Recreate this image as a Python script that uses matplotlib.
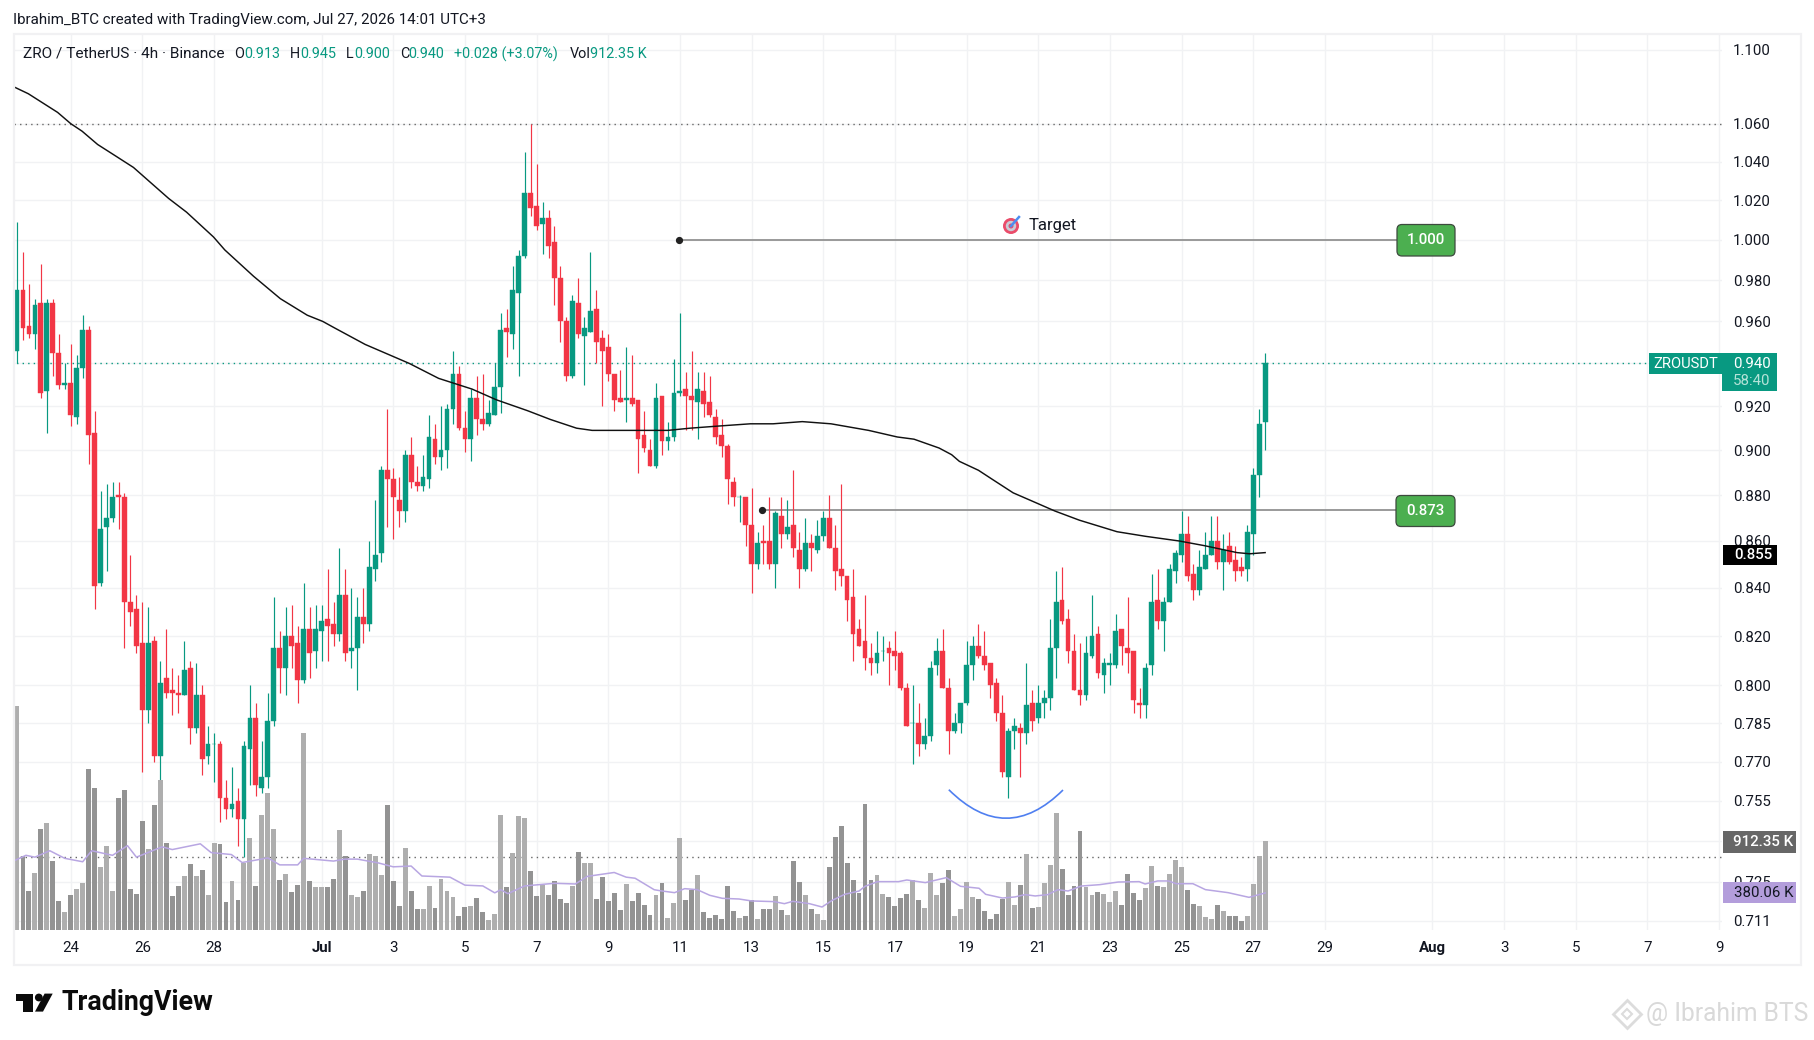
import numpy as np
import matplotlib
matplotlib.use("Agg")
import matplotlib.pyplot as plt
from matplotlib.patches import Rectangle, FancyBboxPatch, PathPatch, Polygon, Circle
from matplotlib.path import Path
from matplotlib.ticker import FixedLocator, NullLocator

plt.rcParams['font.family'] = ['Roboto', 'DejaVu Sans']

# ZRO/USDT 4h candles
opens = [
    .946, .975, .958, .954, .969, .927, .969, .945, .930, .931,
    .915, .938, .956, .908, .842, .866, .870, .880, .879, .834,
    .831, .817, .790, .818, .772, .803, .798, .797, .796, .807,
    .783, .796, .772, .777, .777, .756, .752, .755, .748, .775,
    .787, .760, .764, .786, .815, .807, .820, .817, .802, .823,
    .814, .822, .827, .825, .821, .837, .814, .815, .828, .825,
    .848, .855, .891, .887, .878, .873, .898, .886, .884, .887,
    .905, .897, .900, .919, .935, .910, .905, .924, .914, .912,
    .916, .929, .957, .954, .974, .992, 1.024, 1.017, 1.008, 1.011,
    .999, .981, .960, .934, .969, .953, .955, .966, .952, .948,
    .935, .924, .923, .924, .923, .907, .900, .893, .925, .904,
    .906, .926, .928, .925, .922, .927, .922, .915, .907, .902,
    .886, .879, .879, .867, .850, .860, .860, .850, .871, .863,
    .867, .856, .848, .859, .856, .862, .870, .857, .848, .845,
    .836, .823, .818, .811, .809, .814, .815, .814, .813, .799,
    .785, .785, .777, .780, .808, .814, .799, .782, .785, .793,
    .808, .816, .812, .809, .801, .789, .764, .782, .783, .781,
    .793, .787, .793, .795, .815, .835, .827, .814, .798, .796,
    .812, .821, .804, .808, .808, .823, .815, .814, .793, .792,
    .808, .835, .826, .834, .847, .854, .863, .846, .839, .848,
    .854, .860, .851, .858, .852, .849, .848, .863, .889, .913,
]
highs = [
    1.009, .994, .978, .971, .988, .971, .971, .954, .940, .949,
    .944, .963, .958, .918, .882, .885, .886, .886, .881, .854,
    .837, .834, .832, .820, .810, .823, .807, .804, .818, .810,
    .809, .800, .784, .781, .778, .763, .768, .760, .778, .800,
    .793, .778, .797, .836, .822, .832, .833, .824, .842, .832,
    .833, .833, .848, .834, .857, .848, .840, .836, .840, .860,
    .878, .893, .919, .892, .888, .900, .906, .893, .898, .916,
    .912, .920, .921, .946, .939, .918, .928, .934, .935, .923,
    .940, .964, .966, .987, .995, 1.045, 1.060, 1.039, 1.019, 1.015,
    1.007, .987, .962, .973, .981, .962, .994, .975, .956, .954,
    .935, .937, .948, .944, .923, .918, .905, .931, .925, .913,
    .942, .964, .936, .946, .936, .936, .934, .919, .914, .903,
    .888, .880, .879, .883, .864, .867, .879, .873, .879, .878,
    .891, .864, .870, .863, .869, .873, .880, .867, .885, .845,
    .848, .827, .837, .817, .822, .820, .818, .822, .814, .801,
    .800, .793, .787, .810, .819, .823, .803, .789, .793, .818,
    .820, .825, .822, .809, .803, .796, .783, .787, .785, .809,
    .798, .800, .798, .827, .847, .849, .831, .821, .817, .820,
    .837, .824, .811, .813, .829, .823, .836, .814, .799, .809,
    .846, .848, .836, .850, .856, .873, .871, .850, .856, .864,
    .871, .871, .863, .864, .858, .853, .867, .892, .919, .945,
]
lows = [
    .940, .951, .952, .947, .924, .908, .934, .928, .928, .911,
    .912, .933, .894, .831, .841, .847, .868, .865, .815, .824,
    .813, .766, .785, .770, .763, .795, .788, .789, .796, .777,
    .781, .765, .769, .762, .747, .748, .749, .738, .734, .761,
    .757, .758, .760, .784, .797, .796, .807, .793, .801, .803,
    .807, .810, .810, .816, .818, .810, .807, .798, .817, .822,
    .843, .851, .866, .861, .866, .868, .883, .882, .882, .883,
    .894, .891, .892, .912, .909, .899, .895, .907, .909, .911,
    .916, .917, .943, .947, .934, .991, 1.012, 1.005, .993, .991,
    .968, .950, .932, .933, .952, .930, .955, .940, .920, .932,
    .918, .922, .913, .920, .890, .899, .893, .892, .898, .900,
    .904, .925, .909, .909, .905, .915, .915, .903, .897, .876,
    .875, .868, .858, .838, .848, .850, .848, .840, .857, .861,
    .853, .840, .847, .847, .855, .860, .857, .839, .841, .826,
    .810, .816, .806, .804, .805, .810, .800, .806, .798, .784,
    .769, .772, .775, .778, .804, .799, .773, .781, .781, .792,
    .802, .811, .806, .795, .786, .764, .756, .775, .764, .777,
    .782, .785, .787, .790, .803, .825, .809, .798, .792, .794,
    .811, .803, .797, .800, .807, .808, .805, .789, .787, .787,
    .804, .823, .814, .834, .842, .851, .843, .835, .837, .848,
    .854, .848, .839, .850, .843, .845, .843, .854, .879, .900,
]
closes = [
    .975, .957, .954, .968, .926, .969, .945, .930, .931, .916,
    .938, .956, .907, .841, .865, .870, .879, .879, .834, .830,
    .816, .790, .817, .772, .801, .797, .797, .796, .806, .783,
    .796, .771, .777, .777, .756, .752, .754, .748, .776, .787,
    .761, .764, .786, .815, .807, .820, .816, .802, .823, .813,
    .823, .826, .824, .821, .837, .813, .815, .828, .825, .849,
    .854, .891, .887, .879, .873, .898, .886, .884, .888, .906,
    .897, .900, .919, .935, .910, .905, .924, .914, .912, .917,
    .929, .956, .955, .975, .992, 1.024, 1.016, 1.007, 1.011, .997,
    .981, .960, .934, .970, .954, .957, .965, .950, .946, .935,
    .923, .922, .924, .921, .905, .901, .893, .924, .904, .906,
    .926, .927, .925, .923, .928, .921, .916, .906, .902, .887,
    .879, .879, .867, .850, .859, .859, .850, .872, .863, .866,
    .857, .848, .859, .857, .862, .870, .857, .847, .845, .835,
    .821, .816, .811, .809, .813, .814, .813, .812, .799, .784,
    .785, .777, .780, .807, .814, .799, .782, .785, .793, .808,
    .816, .812, .808, .800, .789, .766, .782, .784, .781, .792,
    .786, .793, .795, .815, .834, .826, .814, .798, .796, .813,
    .820, .805, .809, .809, .822, .816, .813, .794, .792, .807,
    .834, .826, .834, .848, .855, .863, .845, .839, .849, .854,
    .860, .851, .856, .851, .847, .847, .864, .889, .912, .940,
]
# volume in thousands
volumes = [
    2299, 758, 401, 582, 1034, 1096, 707, 295, 185, 358,
    421, 479, 1651, 1458, 648, 861, 401, 1352, 1434, 421,
    369, 1116, 829, 1281, 1537, 892, 346, 448, 558, 676,
    558, 613, 358, 892, 880, 287, 503, 307, 692, 943,
    448, 1179, 1403, 1034, 511, 574, 389, 460, 2020, 503,
    440, 440, 440, 523, 1026, 758, 358, 338, 397, 778,
    758, 562, 1281, 503, 244, 841, 397, 212, 212, 448,
    224, 523, 397, 338, 141, 236, 244, 326, 185, 102,
    161, 1179, 440, 790, 1167, 1148, 605, 346, 460, 354,
    503, 314, 275, 448, 798, 688, 688, 314, 542, 295,
    377, 204, 472, 295, 377, 255, 153, 356, 479, 120,
    274, 940, 304, 414, 561, 181, 120, 150, 109, 448,
    192, 120, 140, 304, 109, 212, 212, 345, 202, 150,
    705, 489, 356, 212, 161, 99, 643, 951, 1064, 684,
    510, 376, 1289, 510, 561, 366, 335, 243, 325, 366,
    510, 304, 222, 581, 356, 479, 612, 140, 212, 489,
    335, 315, 192, 109, 161, 315, 489, 253, 458, 776,
    222, 233, 479, 663, 1197, 622, 356, 448, 1012, 438,
    356, 386, 366, 284, 397, 253, 571, 376, 304, 428,
    653, 448, 438, 571, 715, 643, 407, 263, 243, 130,
    109, 253, 192, 140, 140, 89, 140, 469, 756, 912.35,
]
# long moving average on price, sampled along the line
ma_bar = [
    0.3, 2.9, 7.8, 10, 11.9, 14.5, 17.5, 20.5, 22.7, 26.4, 29.4, 33.9, 35.8,
    40.6, 45.1, 49.6, 52.2, 54.1, 59.3, 66.7, 71.6, 77.2, 81.3, 86.5, 90.3,
    94.7, 97.3, 102.6, 110, 113.7, 118.6, 123.8, 127.6, 132.5, 137.3, 139.4,
    143.6, 148.4, 151.2, 155.4, 157.5, 158.8, 162, 164.3, 167.8, 171.3,
    174.8, 178.9, 185.2, 190, 195.6, 199.8, 205.3, 207.4, 210,
]
ma_price = [
    1.080, 1.076, 1.066, 1.060, 1.056, 1.049, 1.043, 1.037, 1.031, 1.021,
    1.014, 1.0015, .995, .982, .971, .963, .960, .957, .949, .940, .933,
    .928, .923, .918, .914, .910, .909, .909, .909, .910, .911, .912, .912,
    .913, .912, .911, .909, .906, .905, .901, .898, .895, .891, .887, .881,
    .877, .873, .869, .864, .862, .860, .858, .855, .8545, .855,
]
# volume moving average, sampled along the line
vma_bar = [
    0.4, 2.5, 4, 6.5, 9, 12, 13.5, 17, 19.5, 21, 25.3, 27, 31.7, 33.5, 36.9,
    38.7, 43, 45, 48, 49, 54, 55.9, 58, 61.5, 64, 67, 68.8, 73.5, 76, 79, 81,
    82, 83.2, 86, 91, 94.5, 96.5, 101, 103, 104.5, 107.7, 109, 111.1, 112.8,
    114.9, 117, 119.1, 121.9, 124, 127.8, 129.5, 130.9, 133.7, 135.8, 137.5,
    139.6, 142, 143, 145.1, 148.6, 150, 153.1, 156.6, 159, 162.1, 163.2, 166,
    168.1, 169.8, 171.5, 173.6, 175.3, 177, 179.2, 182.3, 185.4, 188.9, 189.9,
    192, 193.8, 195.1, 197.9, 200, 203.8, 207.3, 210,
]
vma_vals = [
    707, 766, 747, 813, 735, 700, 813, 766, 865, 747, 853, 825, 884, 794, 774,
    692, 739, 668, 668, 735, 707, 727, 727, 688, 648, 656, 554, 542, 460, 452,
    381, 413, 373, 452, 479, 472, 550, 590, 542, 531, 413, 400, 383, 424, 414,
    356, 325, 318, 298, 291, 270, 294, 270, 236, 304, 366, 400, 448, 496, 496,
    513, 486, 537, 448, 428, 366, 328, 339, 363, 349, 363, 414, 400, 451, 465,
    492, 496, 472, 503, 503, 475, 475, 414, 383, 335, 380.06,
]
price_ticks = [1.100, 1.060, 1.040, 1.020, 1.000, .980, .960, .940, .920, .900, .880,
               .860, .840, .820, .800, .785, .770, .755, .740, .725, .711]
# 0.740 sits fully behind the volume tag in the picture, so it gets no text
price_labels = ['' if p == .740 else '%.3f' % p for p in price_ticks]
date_ticks = [10, 22, 34, 52, 64, 76, 88, 100, 112, 124, 136, 148, 160, 172, 184, 196,
              208, 220, 238, 250, 262, 274, 286]
date_labels = ['24', '26', '28', 'Jul', '3', '5', '7', '9', '11', '13', '15', '17', '19',
               '21', '23', '25', '27', '29', 'Aug', '3', '5', '7', '9']
hi_level, lo_level = 1.060, .734
last_price = .940
target_level = 1.000
support_level = .8734

GREEN = '#089981'
RED = '#F23645'
TEXT = '#131722'
GRID = '#f1f2f4'
W, H = 1815, 1040
L, R, T, B = 14, 1722, 34, 930

fig = plt.figure(figsize=(W / 100, H / 100), dpi=100, facecolor='white')
rect = [L / W, 1 - B / H, (R - L) / W, (B - T) / H]

ax = fig.add_axes(rect, zorder=1)
bars = np.arange(1, len(opens) + 1)
o, h, l, c = map(np.array, (opens, highs, lows, closes))
up = c >= o
colors = np.where(up, GREEN, RED)

ax.set_yscale('log')
ax.set_xlim(0.498, 286.5)
ax.set_ylim(.7077, 1.1087)
ax.yaxis.tick_right()
ax.yaxis.set_major_locator(FixedLocator(price_ticks))
ax.yaxis.set_minor_locator(NullLocator())
ax.set_yticklabels(price_labels, fontsize=10.8, color=TEXT)
ax.set_xticks(date_ticks)
ax.set_xticklabels(date_labels, fontsize=10.8, color=TEXT)
for lab, txt in zip(ax.get_xticklabels(), date_labels):
    if txt in ('Jul', 'Aug'):
        lab.set_fontweight('bold')
ax.tick_params(axis='both', length=0, pad=8)
ax.grid(True, color=GRID, lw=1.0, zorder=0)
ax.set_axisbelow(True)
for s in ax.spines.values():
    s.set_visible(False)

ax.axhline(hi_level, color='#666666', lw=1.0, ls=(0, (1, 3)), zorder=1)
ax.axhline(lo_level, color='#666666', lw=1.0, ls=(0, (1, 3)), zorder=1)
ax.plot([bars[0] - 1, 276.5], [last_price, last_price], color=GREEN, lw=1.0, ls=(0, (1, 3)), zorder=1)

# drawn levels with their start dots
ax.plot([111.8, 232.5], [target_level, target_level], color='#929292', lw=1.3, zorder=2)
ax.plot([111.8], [target_level], 'o', color='#222222', ms=4.2, zorder=2)
ax.plot([125.8, 232.5], [support_level, support_level], color='#929292', lw=1.3, zorder=2)
ax.plot([125.8], [support_level], 'o', color='#222222', ms=4.2, zorder=2)

ax.vlines(bars, l, h, colors=colors, lw=0.85, zorder=3)
ax.bar(bars, c - o, bottom=o, width=0.8, color=colors, edgecolor=colors, linewidth=0.3, zorder=4)
ax.plot(ma_bar, ma_price, color='#111111', lw=1.05, zorder=5)

vol = fig.add_axes(rect, zorder=2, sharex=ax)
vol.patch.set_alpha(0)
vol.set_ylim(0, 9190)
vol.axis('off')
vol.bar(bars, volumes, width=0.82, color=np.where(up, '#aeaeae', '#939393'), linewidth=0)
vol.plot(vma_bar, vma_vals, color='#b8a6e2', lw=1.1)

# overlay in pixel units for labels and branding
ov = fig.add_axes([0, 0, 1, 1], zorder=3)
ov.set_xlim(0, W)
ov.set_ylim(H, 0)
ov.axis('off')
ov.patch.set_alpha(0)

ov.add_patch(Rectangle((14, 34), 1787, 931, fill=False, ec='#f1f1f3', lw=1.6))


def label(x, y, s, color=TEXT, size=10.8, ha='left', **kw):
    ov.text(x, y, s, color=color, fontsize=size, ha=ha, va='center', **kw)


label(13, 20, 'Ibrahim_BTC created with TradingView.com, Jul 27, 2026 14:01 UTC+3', size=10.9)

label(23, 54, 'ZRO / TetherUS · 4h · Binance', size=11.1)
for x, s, col in [(234, 'O', TEXT), (244, '0.913', GREEN), (290, 'H', TEXT), (300, '0.945', GREEN),
                  (346, 'L', TEXT), (354, '0.900', GREEN), (400, 'C', TEXT), (408.5, '0.940', GREEN),
                  (454, '+0.028 (+3.07%)', GREEN), (570, 'Vol', TEXT), (590.5, '912.35 K', GREEN)]:
    label(x, 54, s, color=col, size=10.4)


def level_box(x0, x1, y0, y1, s):
    ov.add_patch(FancyBboxPatch((x0 + 4, y0 + 4), x1 - x0 - 8, y1 - y0 - 8, boxstyle='round,pad=4,rounding_size=5',
                                fc='#4caf50', ec='#3d4a3e', lw=0.9))
    label((x0 + x1) / 2, (y0 + y1) / 2, s, color='white', ha='center', size=10.8, fontweight='medium')


level_box(1397, 1455, 224.5, 256, '1.000')
level_box(1396, 1455, 495.5, 526.5, '0.873')

# target icon
label(1029, 225.5, 'Target', size=12)
ov.add_patch(Circle((1011, 226), 8, fc='#ea4c6a', ec='none'))
ov.add_patch(Circle((1011, 226), 5.2, fc='#c9ccd6', ec='none'))
ov.add_patch(Circle((1011, 226), 2.5, fc='#ea4c6a', ec='none'))
ov.plot([1011, 1019], [226, 217], color='#4d8df0', lw=1.8)

# right scale labels
ov.add_patch(Rectangle((1649, 353), 73, 20.7, fc=GREEN, ec='none'))
label(1685.5, 363.5, 'ZROUSDT', color='white', ha='center', size=10.6)
ov.add_patch(Rectangle((1722, 353), 55, 38, fc=GREEN, ec='none'))
label(1733, 363.5, '0.940', color='white', size=10.8)
label(1733, 381, '58:40', color='#b5e3d8', size=10.8)
ov.add_patch(Rectangle((1723, 544.5), 54, 20.5, fc='black', ec='none'))
label(1734, 555, '0.855', color='white', size=10.8, fontweight='medium')
ov.add_patch(Rectangle((1723, 831), 73, 21.6, fc='#676767', ec='none'))
label(1733, 842, '912.35 K', color='white', size=10.8, fontweight='medium')
ov.add_patch(Rectangle((1723, 882.4), 73, 20.6, fc='#b39ddb', ec='none'))
label(1734, 893, '380.06 K', color=TEXT, size=10.8)

# hand drawn arc under the lows
arc = Path([(948.8, 789.7), (1006, 846.6), (1063, 790)], [Path.MOVETO, Path.CURVE3, Path.CURVE3])
ov.add_patch(PathPatch(arc, fc='none', ec='#4f7ff0', lw=1.2))

# TradingView logo
ov.add_patch(Polygon([(15.6, 993.6), (33.5, 993.6), (33.5, 1011.6), (23.2, 1011.6), (23.2, 1001.3), (15.6, 1001.3)],
                     fc='#0b0b0b', ec='none'))
ov.add_patch(Circle((38.8, 997.5), 3.9, fc='#0b0b0b', ec='none'))
ov.add_patch(Polygon([(44.6, 993.6), (52.7, 993.6), (43, 1011.6), (35, 1011.6)], fc='#0b0b0b', ec='none'))
label(62, 1003, 'TradingView', color='#0b0b0b', size=19.3, fontweight='bold')

# watermark
ov.plot([1627], [1014], marker='D', ms=14, mfc='none', mec='#dcdcdc', mew=2)
ov.plot([1627], [1014], marker='D', ms=5, mfc='none', mec='#dcdcdc', mew=1.5)
label(1646, 1014, '@ Ibrahim BTS', color='#d9d9d9', size=17.7)

fig.savefig('out.png', dpi=100)
